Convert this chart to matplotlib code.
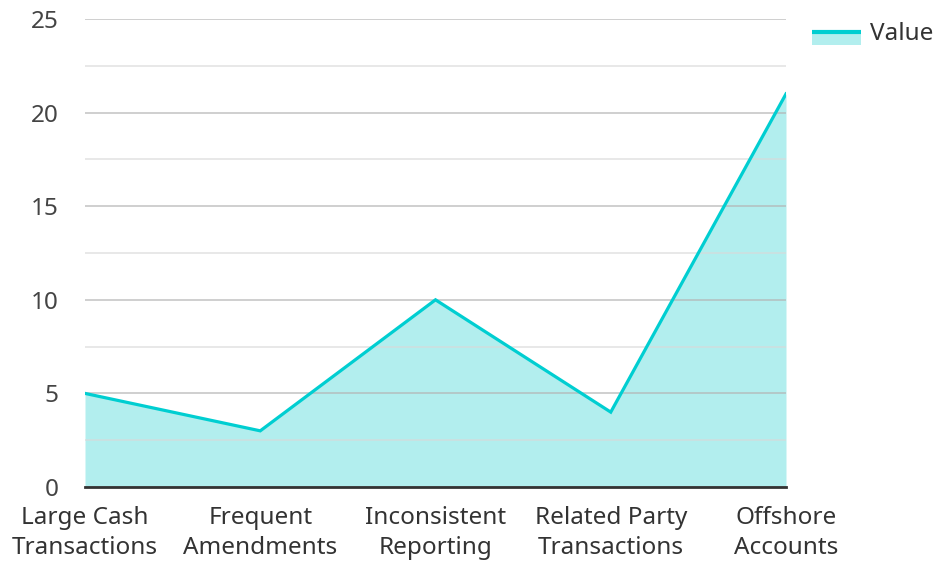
import matplotlib
matplotlib.use("Agg")
import matplotlib.pyplot as plt
from matplotlib.patches import Rectangle
from matplotlib.lines import Line2D
from matplotlib.legend_handler import HandlerBase

plt.rcParams['font.family'] = ['Noto Sans', 'DejaVu Sans']

categories = ["Large Cash\nTransactions", "Frequent\nAmendments", "Inconsistent\nReporting",
              "Related Party\nTransactions", "Offshore\nAccounts"]
values = [5, 3, 10, 4, 21]
series_name = "Value"

LINE = "#00CED1"
FILL = "#B2EEEE"


class AreaHandler(HandlerBase):
    def create_artists(self, legend, orig_handle, xdescent, ydescent, width, height, fontsize, trans):
        y0 = -ydescent - 0.45 * height
        rect = Rectangle((-xdescent, y0), width, height * 0.9,
                         facecolor=FILL, edgecolor="none", transform=trans)
        top = y0 + height * 0.9
        line = Line2D([-xdescent, -xdescent + width], [top, top], color=LINE, lw=3,
                      solid_capstyle="butt", transform=trans)
        return [rect, line]


fig = plt.figure(figsize=(9.35, 5.61), dpi=100)
ax = fig.add_axes([85 / 935, 74 / 561, 701 / 935, 468 / 561])

x = list(range(len(categories)))
ax.fill_between(x, values, 0, color=FILL, lw=0, zorder=1)
ax.plot(x, values, color=LINE, lw=2.3, zorder=3, solid_joinstyle="miter")

ax.set_xlim(0, len(categories) - 1)
ax.set_ylim(0, 25)
ax.set_yticks([0, 5, 10, 15, 20, 25])
ax.set_yticks([2.5, 7.5, 12.5, 17.5, 22.5], minor=True)
ax.set_axisbelow(False)
ax.grid(axis="y", which="major", color="#b4b4b4", alpha=0.75, lw=1.2, zorder=2)
ax.grid(axis="y", which="minor", color="#d8d8d8", alpha=0.7, lw=1.2, zorder=2)
ax.grid(axis="x", visible=False)

ax.set_xticks(x)
ax.set_xticklabels(categories, fontsize=17.5, color="#333333", linespacing=1.32)
ax.tick_params(axis="y", labelsize=17.5, labelcolor="#444444", length=0, pad=19)
ax.tick_params(axis="x", length=0, pad=14)
ax.tick_params(which="minor", length=0)

for s in ["top", "right", "left"]:
    ax.spines[s].set_visible(False)
ax.spines["bottom"].set_color("#333333")
ax.spines["bottom"].set_linewidth(2)
ax.spines["bottom"].set_zorder(4)

handle = Rectangle((0, 0), 1, 1)
fig.legend([handle], [series_name], handler_map={Rectangle: AreaHandler()},
           loc="upper left", bbox_to_anchor=(812 / 935, 1 - 22 / 561), frameon=False,
           borderpad=0, borderaxespad=0,
           fontsize=17.5, handlelength=2.0, handleheight=0.55, handletextpad=0.38,
           labelcolor="#333333")

fig.savefig("out.png", dpi=100)
